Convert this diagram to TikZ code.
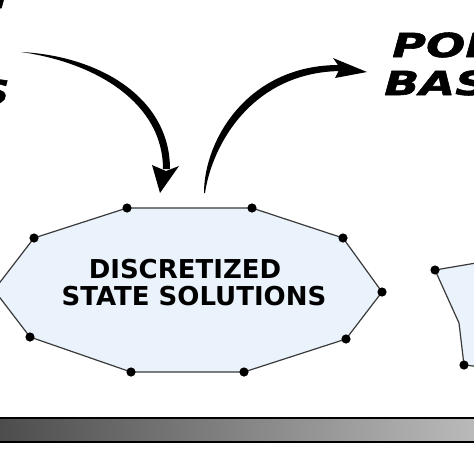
\documentclass[tikz,border=0pt]{standalone}
\usepackage{fontspec}
\setmainfont{DejaVu Sans}
\newfontfamily\widefont[FakeStretch=1.4,FakeBold=1.8]{DejaVu Sans}
\usetikzlibrary{shadings}
\definecolor{cellblue}{HTML}{EAF3FC}
\definecolor{edgegray}{HTML}{3A3A3A}
\tikzset{
    label/.style={inner sep=0pt, font=\bfseries\fontsize{26}{27}\selectfont},
    oblabel/.style={inner sep=0pt, font=\widefont\bfseries\itshape\fontsize{33}{38}\selectfont},
    vertex/.style={fill=black}
}
\begin{document}
\begin{tikzpicture}[x=1pt,y=-1pt]
            \useasboundingbox (0,0) rectangle (474,474);
            \clip (0,0) rectangle (474,474);
            \fill[white] (0,0) rectangle (474,474);

            \coordinate (s1) at (127,208);
            \coordinate (s2) at (252,208);
            \coordinate (s3) at (343,238);
            \coordinate (s4) at (382,292);
            \coordinate (s5) at (346,339);
            \coordinate (s6) at (244,372);
            \coordinate (s7) at (131,372);
            \coordinate (s8) at (30,337);
            \coordinate (s9) at (-6,290);
            \coordinate (s10) at (34,238);
            \draw[edgegray, fill=cellblue, line width=1.2pt] (s1)--(s2)--(s3)--(s4)--(s5)--(s6)--(s7)--(s8)--(s9)--(s10)--cycle;

            \coordinate (r1) at (435,270);
            \coordinate (r2) at (459,323);
            \coordinate (r3) at (464,365);
            \draw[edgegray, fill=cellblue, line width=1.2pt] (482,262)--(r1)--(r2)--(r3)--(482,367);

            \foreach \p in {s1,s2,s3,s4,s5,s6,s7,s8,s9,s10,r1,r3}
                \fill[vertex] (\p) circle (4.6);

            \node[label, anchor=base] (dtop) at (185,278) {DISCRETIZED};
            \node[label, anchor=base] (dbot) at (194,305) {STATE SOLUTIONS};

            \fill (21,52) .. controls (100,56) and (170,98) .. (170,169)
                -- (163,169) .. controls (163,104) and (98,63) .. (21,52) -- cycle;
            \fill (152,165) -- (160,193) -- (179,166) -- (166,171) -- cycle;

            \fill (204,193) .. controls (204,140) and (248,64) .. (341,65)
                -- (341,71) .. controls (252,72) and (212,145) .. (205,193) -- cycle;
            \fill (333,58) -- (367,72) -- (335,78) -- (340,68) -- cycle;

            \node[oblabel, anchor=base west] (pol) at (392,57) {POL};
            \node[oblabel, anchor=base west] (bas) at (384,95) {BAS};
            \node[oblabel, anchor=base east] (lefts) at (10,104) {S};
            \node[oblabel, anchor=base east] (lefty) at (17,8) {Y};

            \shade[left color=black!70, right color=black!27, draw=black, line width=1.5pt] (-2,418) rectangle (476,442);
        \end{tikzpicture}
\end{document}
